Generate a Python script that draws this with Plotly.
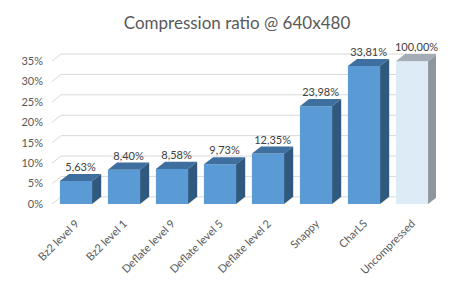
import plotly.graph_objects as go

categories = ["Bz2 level 9", "Bz2 level 1", "Deflate level 9", "Deflate level 5",
              "Deflate level 2", "Snappy", "CharLS", "Uncompressed"]
ratios = [5.63, 8.40, 8.58, 9.73, 12.35, 23.98, 33.81, 100.00]
y_ticks = [0, 5, 10, 15, 20, 25, 30, 35]
y_tick_labels = ["0%", "5%", "10%", "15%", "20%", "25%", "30%", "35%"]

Y_MAX = 35            # axis maximum; taller bars are cut at it
Y_TOP = 37            # room above for the 3D depth
HALF_W = 0.335        # half bar width (category units)
DX = 0.19             # 3D depth, x (category units)
DY = 1.75             # 3D depth, y (data units)

FONT = "Lato, 'Open Sans', sans-serif"
GRAY = "#595959"

front_cols = ["#5B9BD5"] * 7 + ["#DDEBF7"]
top_cols = ["#3F6F9F"] * 7 + ["#A4ADB6"]
side_cols = ["#30597F"] * 7 + ["#8D969F"]

n = len(categories)
shown = [min(v, Y_MAX) for v in ratios]

fig = go.Figure()

# back-wall gridlines with diagonal floor edge (below traces)
shapes = []
for t in y_ticks:
    shapes.append(dict(
        type="path", xref="x", yref="y", layer="below",
        path=f"M {-0.5} {t} L {-0.5 + DX} {t + DY} L {n - 0.5 + DX} {t + DY}",
        line=dict(color="#D9D9D9", width=1)))

# front faces
fig.add_trace(go.Bar(x=list(range(n)), y=shown, width=2 * HALF_W,
                     marker=dict(color=front_cols, line=dict(width=0)),
                     hoverinfo="skip", showlegend=False))

# top and side faces
for i, h in enumerate(shown):
    fig.add_trace(go.Scatter(
        x=[i - HALF_W, i + HALF_W, i + HALF_W + DX, i - HALF_W + DX, i - HALF_W],
        y=[h, h, h + DY, h + DY, h],
        mode="lines", fill="toself", fillcolor=top_cols[i], line=dict(width=0, color=top_cols[i]),
        hoverinfo="skip", cliponaxis=False, showlegend=False))
    fig.add_trace(go.Scatter(
        x=[i + HALF_W, i + HALF_W + DX, i + HALF_W + DX, i + HALF_W, i + HALF_W],
        y=[0, DY, h + DY, h, 0],
        mode="lines", fill="toself", fillcolor=side_cols[i], line=dict(width=0, color=side_cols[i]),
        hoverinfo="skip", cliponaxis=False, showlegend=False))

# data labels
labels = [f"{v:.2f}".replace(".", ",") + "%" for v in ratios]
fig.add_trace(go.Scatter(
    x=[i + DX / 2 for i in range(n)], y=[h + DY for h in shown],
    mode="text", text=labels, textposition="top center",
    textfont=dict(family=FONT, size=11, color="#404040"),
    hoverinfo="skip", cliponaxis=False, showlegend=False))

fig.update_layout(
    width=474, height=283,
    margin=dict(l=52, r=38, t=53, b=79),
    paper_bgcolor="white", plot_bgcolor="white",
    shapes=shapes,
    title=dict(text="Compression ratio @ 640x480", x=0.5, xanchor="center",
               y=0.92, yanchor="middle",
               font=dict(family=FONT, size=17, color=GRAY)),
    xaxis=dict(range=[-0.5, n - 0.5], tickvals=list(range(n)), ticktext=categories,
               tickangle=-45, showgrid=False, zeroline=False, showline=False,
               tickfont=dict(family=FONT, size=11, color=GRAY), ticklabelstandoff=10,
               automargin=False, fixedrange=True),
    yaxis=dict(range=[0, Y_TOP], tickvals=y_ticks, ticktext=y_tick_labels, showgrid=False,
               zeroline=False, showline=False, ticklabelstandoff=8,
               tickfont=dict(family=FONT, size=11, color=GRAY),
               automargin=False, fixedrange=True),
)

fig.write_html("out.html")
